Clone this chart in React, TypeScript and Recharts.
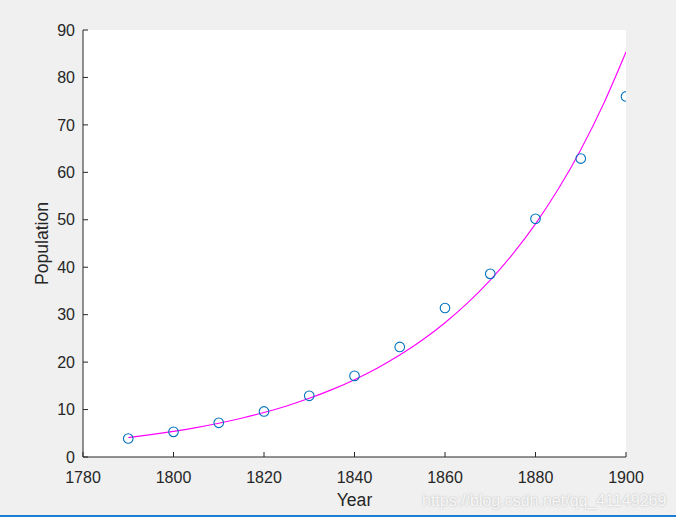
import React from 'react';
import { ComposedChart, XAxis, YAxis, Line, Scatter, CartesianGrid, Label } from 'recharts';

const years = [1790, 1800, 1810, 1820, 1830, 1840, 1850, 1860, 1870, 1880, 1890, 1900];
const population = [3.9, 5.3, 7.2, 9.6, 12.9, 17.1, 23.2, 31.4, 38.6, 50.2, 62.9, 76.0];

const fitYears = [1790, 1795, 1800, 1805, 1810, 1815, 1820, 1825, 1830, 1835, 1840, 1845, 1850, 1855, 1860, 1865, 1870, 1875, 1880, 1885, 1890, 1895, 1900];
const fitValues = [4.1, 4.71, 5.4, 6.2, 7.12, 8.17, 9.38, 10.77, 12.37, 14.2, 16.3, 18.71, 21.48, 24.65, 28.3, 32.49, 37.3, 42.82, 49.15, 56.42, 64.77, 74.36, 85.37];

const xTicks = [1780, 1800, 1820, 1840, 1860, 1880, 1900];
const yTicks = [0, 10, 20, 30, 40, 50, 60, 70, 80, 90];

const pointData = years.map((y, i) => ({ year: y, pop: population[i] }));
const fitData = fitYears.map((y, i) => ({ year: y, fit: fitValues[i] }));

const AX = '#262626';
const FONT = 'Arial, "Liberation Sans", Helvetica, sans-serif';

const Ring = (props: any) => {
  const { cx, cy } = props;
  if (cx == null || cy == null) return null;
  return <circle cx={cx} cy={cy} r={4.8} fill="none" stroke="#0072BD" strokeWidth={1.1} />;
};

export default function App() {
  const tickStyle = { fill: AX, fontSize: 16, fontFamily: FONT };
  const labelStyle = { fill: AX, fontSize: 17.6, fontFamily: FONT, textAnchor: 'middle' as const };
  return (
    <div style={{ position: 'absolute', left: 0, top: 0, width: 676, height: 517, background: '#f0f0f0', overflow: 'hidden' }}>
      <ComposedChart width={676} height={517} margin={{ top: 30, right: 50, left: 0, bottom: 0 }}>
        <CartesianGrid fill="#ffffff" horizontal={false} vertical={false} stroke="none" />
        <XAxis
          dataKey="year"
          type="number"
          domain={[1780, 1900]}
          ticks={xTicks}
          allowDataOverflow
          height={60}
          stroke={AX}
          tickSize={-5}
          tickMargin={20}
          tick={tickStyle}
          tickLine={{ stroke: AX }}
          axisLine={{ stroke: AX }}
        >
          <Label value="Year" position="insideBottom" offset={11} style={labelStyle} />
        </XAxis>
        <XAxis
          xAxisId="top"
          orientation="top"
          type="number"
          domain={[1780, 1900]}
          ticks={xTicks}
          allowDataOverflow
          height={0}
          stroke={AX}
          tickSize={-5}
          tickFormatter={() => ''}
          tickLine={{ stroke: AX }}
          axisLine={{ stroke: AX }}
        />
        <YAxis
          type="number"
          domain={[0, 90]}
          ticks={yTicks}
          allowDataOverflow
          width={83}
          stroke={AX}
          tickSize={-5}
          tickMargin={13}
          tick={tickStyle}
          tickLine={{ stroke: AX }}
          axisLine={{ stroke: AX }}
        >
          <Label value="Population" position="center" angle={-90} style={labelStyle} />
        </YAxis>
        <YAxis
          yAxisId="right"
          orientation="right"
          type="number"
          domain={[0, 90]}
          ticks={yTicks}
          allowDataOverflow
          width={0}
          stroke={AX}
          tickSize={-5}
          tickFormatter={() => ''}
          tickLine={{ stroke: AX }}
          axisLine={{ stroke: AX }}
        />
        <Scatter data={pointData} dataKey="pop" shape={Ring} isAnimationActive={false} />
        <Line data={fitData} dataKey="fit" type="monotone" stroke="#ff00ff" strokeWidth={1.1} dot={false} activeDot={false} isAnimationActive={false} />
      </ComposedChart>
      <div style={{ position: 'absolute', left: 422, top: 491, fontFamily: FONT, fontSize: 16, lineHeight: '20px', color: '#f8f8f8', textShadow: '0 0 2px #b0b0b0', whiteSpace: 'nowrap' }}>
        https://blog.csdn.net/qq_41149269
      </div>
      <div style={{ position: 'absolute', left: 0, top: 515, width: 676, height: 2, background: '#1a7fd4' }} />
    </div>
  );
}
